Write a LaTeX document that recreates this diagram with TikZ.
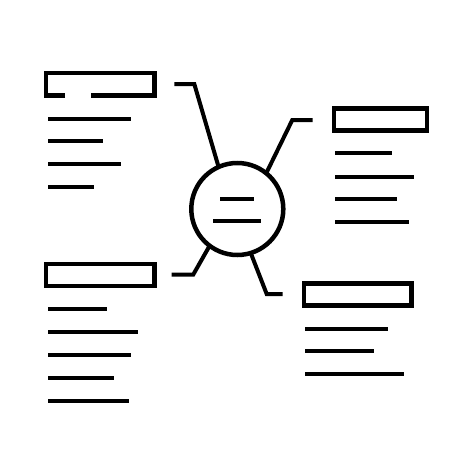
\documentclass[tikz,border=0pt]{standalone}
\usetikzlibrary{calc}

\tikzset{
  titlebox/.style={draw, rectangle, line width=4.5pt, inner sep=0pt, outer sep=0pt, minimum height=22pt},
  bar/.style={line width=4pt, line cap=butt},
  link/.style={line width=4pt, line join=miter}
}

\begin{document}
\begin{tikzpicture}[x=1pt,y=-1pt]
            \useasboundingbox (0,0) rectangle (474,474);
            % hub in the middle
            \node[draw, circle, line width=4.5pt, inner sep=0pt, outer sep=0pt, minimum size=92pt] (hub) at (237.3,209) {};
            \draw[bar] (220,198.7) -- (254,198.7);
            \draw[bar] (213.3,221.3) -- (260.7,221.3);
            % title boxes
            \node[titlebox, draw=none, minimum width=108.5pt, minimum height=22.5pt] (tlbox) at (100.25,84.25) {};
            \draw[line width=4.5pt, line join=miter] ($(tlbox.south west)+(19,0)$) -- (tlbox.south west) -- (tlbox.north west) -- (tlbox.north east) -- (tlbox.south east) -- ($(tlbox.south east)+(-63.5,0)$);
            \node[titlebox, minimum width=93pt] (trbox) at (380.5,119.3) {};
            \node[titlebox, minimum width=108.3pt] (blbox) at (100.3,275) {};
            \node[titlebox, minimum width=107.7pt] (brbox) at (357.8,294.3) {};
            % links from the hub
            \coordinate (tlend) at (174.3,84);
            \coordinate (trend) at (312.7,120);
            \coordinate (blend) at (171.7,274.5);
            \coordinate (brend) at (282.7,294);
            \draw[link] (hub.114) -- (194.3,84) -- (tlend);
            \draw[link] (hub.51) -- (292.3,120) -- (trend);
            \draw[link] (hub.233) -- (193.3,274.5) -- (blend);
            \draw[link] (hub.287) -- (266.7,294) -- (brend);
            % text lines
            \foreach \y/\x in {118.7/131, 141/102.7, 164.3/121, 187/93.7}
                \draw[bar] (48,\y) -- (\x,\y);
            \foreach \y/\x in {153.3/391.7, 176.7/414, 199.3/396.7, 222.3/409.3}
                \draw[bar] (335,\y) -- (\x,\y);
            \foreach \y/\x in {309.3/107.3, 332/138.3, 355/131, 377.7/114, 400.7/129.3}
                \draw[bar] (48,\y) -- (\x,\y);
            \foreach \y/\x in {328.7/388.3, 351/374.3, 374.3/404.3}
                \draw[bar] (305,\y) -- (\x,\y);
        \end{tikzpicture}
\end{document}
